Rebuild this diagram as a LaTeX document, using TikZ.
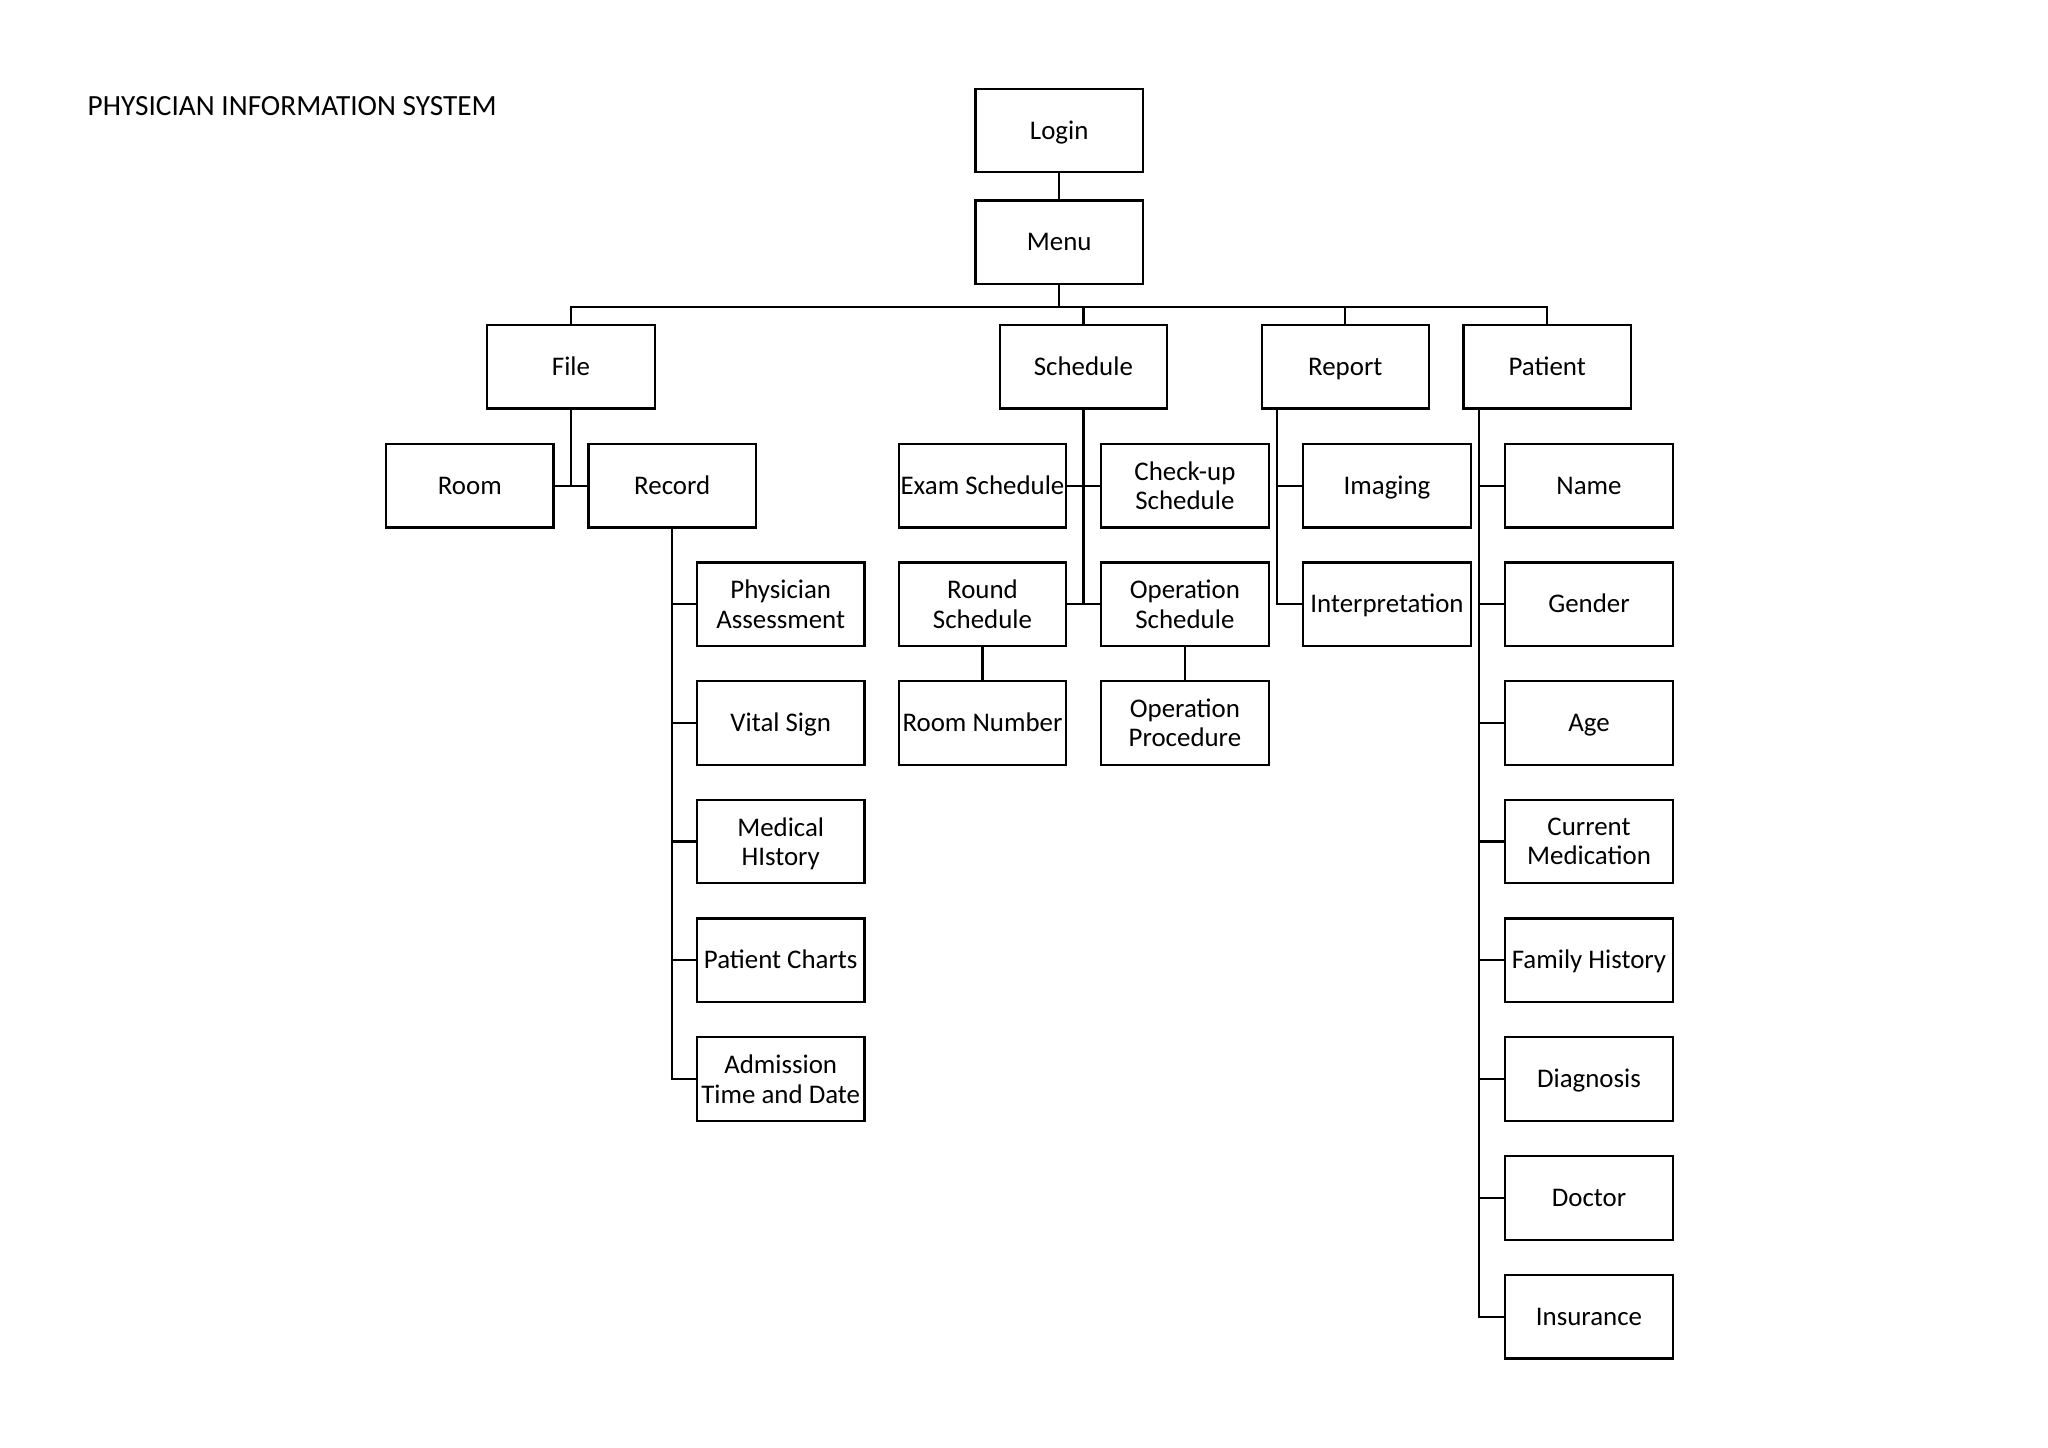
\documentclass[tikz,border=0pt]{standalone}
\usepackage{fontspec}
\setmainfont{Carlito}
\begin{document}
\begin{tikzpicture}[x=1pt,y=-1pt,
  box/.style={draw=black,line width=2.2pt,minimum width=167.4pt,minimum height=83.5pt,inner sep=0pt,align=center,font=\fontsize{26.9}{29.5}\selectfont},
  one/.style={box,text height=17.3pt,text depth=0pt},
  conn/.style={draw=black,line width=2.2pt}]
\useasboundingbox (0,0) rectangle (2048,1448);
\fill[white] (0,0) rectangle (2048,1448);
\node[anchor=base west,font=\fontsize{29.3}{32}\selectfont,inner sep=0pt] (title) at (87.5,115) {PHYSICIAN INFORMATION SYSTEM};
% top
\node[one] (login) at (1059.2,130.5) {Login};
\node[one] (menu) at (1059.2,242.2) {Menu};
% row 1
\node[one] (file) at (571,366.8) {File};
\node[one] (sched) at (1083.4,366.8) {Schedule};
\node[one] (report) at (1345.3,366.8) {Report};
\node[one] (patient) at (1547.2,366.8) {Patient};
% file children
\node[one] (room) at (469.8,485.7) {Room};
\node[one] (record) at (672.2,485.7) {Record};
\node[box] (pa) at (780.7,604.3) {Physician\\Assessment};
\node[one] (vs) at (780.7,722.9) {Vital Sign};
\node[box] (mh) at (780.7,841.5) {Medical\\\raisebox{0pt}[\height][0pt]{HIstory}};
\node[one] (pc) at (780.7,960.3) {Patient Charts};
\node[box] (adm) at (780.7,1079.1) {Admission\\Time and Date};
% schedule children
\node[one] (exam) at (982.5,485.7) {Exam Schedule};
\node[box] (check) at (1184.9,485.7) {Check-up\\Schedule};
\node[box] (round) at (982.5,604.3) {Round\\Schedule};
\node[box] (opsch) at (1184.9,604.3) {Operation\\Schedule};
\node[one] (roomnum) at (982.5,722.9) {Room Number};
\node[box] (opproc) at (1184.9,722.9) {Operation\\Procedure};
% report children
\node[one] (imaging) at (1387,485.7) {Imaging};
\node[one] (interp) at (1387,604.3) {Interpretation};
% patient children
\node[one] (name) at (1589,485.7) {Name};
\node[one] (gender) at (1589,604.3) {Gender};
\node[one] (age) at (1589,722.9) {Age};
\node[box] (curmed) at (1589,841.5) {Current\\Medication};
\node[one] (famhist) at (1589,960.3) {Family History};
\node[one] (diag) at (1589,1079.1) {Diagnosis};
\node[one] (doctor) at (1589,1197.9) {Doctor};
\node[one] (ins) at (1589,1316.7) {Insurance};
% connectors
\coordinate (bus) at (1059.2,307.3);
\draw[conn] (login.south) -- (menu.north);
\draw[conn] (menu.south) -- (bus);
\draw[conn] (file.north) |- (bus) -| (patient.north);
\draw[conn] (sched.north) -- (sched.north |- bus);
\draw[conn] (report.north) -- (report.north |- bus);
% file
\draw[conn] (file.south) -- (file.south |- room.east);
\draw[conn] (room.east) -- (record.west);
\draw[conn] (record.south) |- (adm.west);
\foreach \c in {pa,vs,mh,pc} \draw[conn] (record.south |- \c.west) -- (\c.west);
% schedule
\draw[conn] (sched.south) -- (sched.south |- round.east);
\draw[conn] (exam.east) -- (check.west);
\draw[conn] (round.east) -- (opsch.west);
\draw[conn] (round.south) -- (roomnum.north);
\draw[conn] (opsch.south) -- (opproc.north);
% report
\coordinate (rl) at ([xshift=16.6pt]report.south west);
\draw[conn] (rl) |- (interp.west);
\draw[conn] (rl |- imaging.west) -- (imaging.west);
% patient
\coordinate (pl) at ([xshift=16.6pt]patient.south west);
\draw[conn] (pl) |- (ins.west);
\foreach \c in {name,gender,age,curmed,famhist,diag,doctor} \draw[conn] (pl |- \c.west) -- (\c.west);
\end{tikzpicture}
\end{document}
